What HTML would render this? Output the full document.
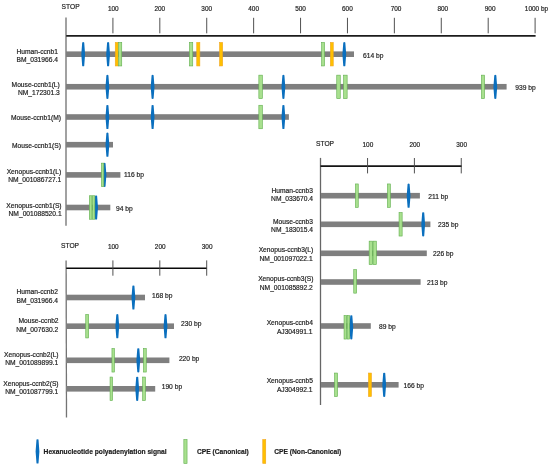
<!DOCTYPE html>
<html lang="en">
<head>
<meta charset="utf-8">
<title>Cyclin B 3'UTR maps</title>
<style>
html,body{margin:0;padding:0;background:#fff;}
svg{display:block;}
text{font-family:"Liberation Sans",Arial,Helvetica,sans-serif;fill:#1c1c1c;stroke:#1c1c1c;stroke-width:0.22px;stroke-opacity:0.8;}
</style>
</head>
<body>
<svg width="550" height="467" viewBox="0 0 550 467">
<rect x="0" y="0" width="550" height="467" fill="#ffffff"/>
<line x1="66.00" y1="17.60" x2="66.00" y2="225.70" stroke="#979797" stroke-width="1.8"/>
<line x1="66.20" y1="35.90" x2="535.60" y2="35.90" stroke="#1c1c1c" stroke-width="1.7"/>
<line x1="112.91" y1="17.80" x2="112.91" y2="33.30" stroke="#484848" stroke-width="0.95"/>
<line x1="159.82" y1="17.80" x2="159.82" y2="33.30" stroke="#484848" stroke-width="0.95"/>
<line x1="206.73" y1="17.80" x2="206.73" y2="33.30" stroke="#484848" stroke-width="0.95"/>
<line x1="253.64" y1="17.80" x2="253.64" y2="33.30" stroke="#484848" stroke-width="0.95"/>
<line x1="300.55" y1="17.80" x2="300.55" y2="33.30" stroke="#484848" stroke-width="0.95"/>
<line x1="347.46" y1="17.80" x2="347.46" y2="33.30" stroke="#484848" stroke-width="0.95"/>
<line x1="394.37" y1="17.80" x2="394.37" y2="33.30" stroke="#484848" stroke-width="0.95"/>
<line x1="441.28" y1="17.80" x2="441.28" y2="33.30" stroke="#484848" stroke-width="0.95"/>
<line x1="488.19" y1="17.80" x2="488.19" y2="33.30" stroke="#484848" stroke-width="0.95"/>
<line x1="535.10" y1="17.80" x2="535.10" y2="33.30" stroke="#484848" stroke-width="0.95"/>
<text x="61.6" y="9.2" text-anchor="start" font-size="6.68">STOP</text>
<text x="113.3" y="10.7" text-anchor="middle" font-size="6.45">100</text>
<text x="159.8" y="10.7" text-anchor="middle" font-size="6.45">200</text>
<text x="206.7" y="10.7" text-anchor="middle" font-size="6.45">300</text>
<text x="253.6" y="10.7" text-anchor="middle" font-size="6.45">400</text>
<text x="300.5" y="10.7" text-anchor="middle" font-size="6.45">500</text>
<text x="347.4" y="10.7" text-anchor="middle" font-size="6.45">600</text>
<text x="396.0" y="10.7" text-anchor="middle" font-size="6.45">700</text>
<text x="442.8" y="10.7" text-anchor="middle" font-size="6.45">800</text>
<text x="490.1" y="10.7" text-anchor="middle" font-size="6.45">900</text>
<text x="524.8" y="10.7" text-anchor="start" font-size="6.45">1000 bp</text>
<rect x="66.0" y="51.40" width="288.0" height="5.6" fill="#7f7f7f"/>
<path d="M82.20 42.50Q82.20 42.10 83.20 42.10Q84.20 42.10 84.20 42.50L85.10 54.20L84.20 65.90Q84.20 66.30 83.20 66.30Q82.20 66.30 82.20 65.90L81.30 54.20Z" fill="#0a6fbe"/>
<path d="M107.10 42.50Q107.10 42.10 108.10 42.10Q109.10 42.10 109.10 42.50L110.00 54.20L109.10 65.90Q109.10 66.30 108.10 66.30Q107.10 66.30 107.10 65.90L106.20 54.20Z" fill="#0a6fbe"/>
<rect x="115.25" y="42.45" width="2.90" height="23.50" fill="#ffc000" stroke="#f0a51e" stroke-width="0.6"/>
<rect x="118.65" y="42.45" width="3.10" height="23.50" fill="#a8e08e" stroke="#5fae4c" stroke-width="0.6"/>
<rect x="189.45" y="42.45" width="3.30" height="23.50" fill="#a8e08e" stroke="#5fae4c" stroke-width="0.6"/>
<rect x="196.75" y="42.45" width="3.10" height="23.50" fill="#ffc000" stroke="#f0a51e" stroke-width="0.6"/>
<rect x="219.55" y="42.45" width="3.10" height="23.50" fill="#ffc000" stroke="#f0a51e" stroke-width="0.6"/>
<rect x="321.65" y="42.45" width="2.90" height="23.50" fill="#a8e08e" stroke="#5fae4c" stroke-width="0.6"/>
<rect x="330.35" y="42.45" width="2.90" height="23.50" fill="#ffc000" stroke="#f0a51e" stroke-width="0.6"/>
<path d="M343.30 42.50Q343.30 42.10 344.30 42.10Q345.30 42.10 345.30 42.50L346.20 54.20L345.30 65.90Q345.30 66.30 344.30 66.30Q343.30 66.30 343.30 65.90L342.40 54.20Z" fill="#0a6fbe"/>
<text x="58.0" y="54.0" text-anchor="end" font-size="6.68">Human-ccnb1</text>
<text x="58.0" y="62.1" text-anchor="end" font-size="6.68">BM_031966.4</text>
<text x="363.0" y="57.6" text-anchor="start" font-size="6.68">614 bp</text>
<rect x="66.0" y="83.95" width="440.6" height="5.6" fill="#7f7f7f"/>
<path d="M106.40 75.20Q106.40 74.80 107.40 74.80Q108.40 74.80 108.40 75.20L109.30 86.90L108.40 98.60Q108.40 99.00 107.40 99.00Q106.40 99.00 106.40 98.60L105.50 86.90Z" fill="#0a6fbe"/>
<path d="M151.60 75.20Q151.60 74.80 152.60 74.80Q153.60 74.80 153.60 75.20L154.50 86.90L153.60 98.60Q153.60 99.00 152.60 99.00Q151.60 99.00 151.60 98.60L150.70 86.90Z" fill="#0a6fbe"/>
<rect x="258.85" y="75.15" width="3.50" height="23.50" fill="#a8e08e" stroke="#5fae4c" stroke-width="0.6"/>
<path d="M282.40 75.20Q282.40 74.80 283.40 74.80Q284.40 74.80 284.40 75.20L285.30 86.90L284.40 98.60Q284.40 99.00 283.40 99.00Q282.40 99.00 282.40 98.60L281.50 86.90Z" fill="#0a6fbe"/>
<rect x="336.75" y="75.15" width="3.50" height="23.50" fill="#a8e08e" stroke="#5fae4c" stroke-width="0.6"/>
<rect x="343.55" y="75.15" width="3.60" height="23.50" fill="#a8e08e" stroke="#5fae4c" stroke-width="0.6"/>
<rect x="481.45" y="75.15" width="3.10" height="23.50" fill="#a8e08e" stroke="#5fae4c" stroke-width="0.6"/>
<path d="M494.30 75.20Q494.30 74.80 495.30 74.80Q496.30 74.80 496.30 75.20L497.20 86.90L496.30 98.60Q496.30 99.00 495.30 99.00Q494.30 99.00 494.30 98.60L493.40 86.90Z" fill="#0a6fbe"/>
<text x="59.8" y="86.9" text-anchor="end" font-size="6.68">Mouse-ccnb1(L)</text>
<text x="59.8" y="94.9" text-anchor="end" font-size="6.68">NM_172301.3</text>
<text x="515.3" y="90.0" text-anchor="start" font-size="6.68">939 bp</text>
<rect x="66.0" y="114.20" width="222.9" height="5.6" fill="#7f7f7f"/>
<path d="M106.40 105.30Q106.40 104.90 107.40 104.90Q108.40 104.90 108.40 105.30L109.30 117.00L108.40 128.70Q108.40 129.10 107.40 129.10Q106.40 129.10 106.40 128.70L105.50 117.00Z" fill="#0a6fbe"/>
<path d="M151.60 105.30Q151.60 104.90 152.60 104.90Q153.60 104.90 153.60 105.30L154.50 117.00L153.60 128.70Q153.60 129.10 152.60 129.10Q151.60 129.10 151.60 128.70L150.70 117.00Z" fill="#0a6fbe"/>
<rect x="258.85" y="105.25" width="3.50" height="23.50" fill="#a8e08e" stroke="#5fae4c" stroke-width="0.6"/>
<path d="M282.40 105.30Q282.40 104.90 283.40 104.90Q284.40 104.90 284.40 105.30L285.30 117.00L284.40 128.70Q284.40 129.10 283.40 129.10Q282.40 129.10 282.40 128.70L281.50 117.00Z" fill="#0a6fbe"/>
<text x="61.0" y="119.6" text-anchor="end" font-size="6.68">Mouse-ccnb1(M)</text>
<rect x="66.0" y="141.90" width="47.0" height="5.6" fill="#7f7f7f"/>
<path d="M106.40 133.00Q106.40 132.60 107.40 132.60Q108.40 132.60 108.40 133.00L109.30 144.70L108.40 156.40Q108.40 156.80 107.40 156.80Q106.40 156.80 106.40 156.40L105.50 144.70Z" fill="#0a6fbe"/>
<text x="60.9" y="147.7" text-anchor="end" font-size="6.68">Mouse-ccnb1(S)</text>
<rect x="66.0" y="172.10" width="54.4" height="5.6" fill="#7f7f7f"/>
<path d="M103.50 163.20Q103.50 162.80 104.50 162.80Q105.50 162.80 105.50 163.20L106.40 174.90L105.50 186.60Q105.50 187.00 104.50 187.00Q103.50 187.00 103.50 186.60L102.60 174.90Z" fill="#0a6fbe"/>
<rect x="101.45" y="163.15" width="2.40" height="23.50" fill="#a8e08e" stroke="#5fae4c" stroke-width="0.6"/>
<text x="61.2" y="173.9" text-anchor="end" font-size="6.68">Xenopus-ccnb1(L)</text>
<text x="61.2" y="182.3" text-anchor="end" font-size="6.68">NM_001086727.1</text>
<text x="124.0" y="177.4" text-anchor="start" font-size="6.68">116 bp</text>
<rect x="66.0" y="204.70" width="44.3" height="5.6" fill="#7f7f7f"/>
<path d="M95.10 195.80Q95.10 195.40 96.10 195.40Q97.10 195.40 97.10 195.80L98.00 207.50L97.10 219.20Q97.10 219.60 96.10 219.60Q95.10 219.60 95.10 219.20L94.20 207.50Z" fill="#0a6fbe"/>
<rect x="89.35" y="195.75" width="2.60" height="23.50" fill="#a8e08e" stroke="#5fae4c" stroke-width="0.6"/>
<rect x="92.45" y="195.75" width="2.40" height="23.50" fill="#a8e08e" stroke="#5fae4c" stroke-width="0.6"/>
<text x="61.6" y="207.7" text-anchor="end" font-size="6.68">Xenopus-ccnb1(S)</text>
<text x="61.6" y="215.7" text-anchor="end" font-size="6.68">NM_001088520.1</text>
<text x="116.1" y="210.8" text-anchor="start" font-size="6.68">94 bp</text>
<line x1="66.10" y1="260.40" x2="66.50" y2="417.40" stroke="#747474" stroke-width="1.3"/>
<line x1="66.20" y1="268.20" x2="207.00" y2="268.20" stroke="#0a0a0a" stroke-width="1.5"/>
<line x1="112.90" y1="260.40" x2="112.90" y2="275.70" stroke="#484848" stroke-width="0.95"/>
<line x1="159.80" y1="260.40" x2="159.80" y2="275.70" stroke="#484848" stroke-width="0.95"/>
<line x1="206.70" y1="260.40" x2="206.70" y2="275.70" stroke="#484848" stroke-width="0.95"/>
<text x="61.0" y="248.1" text-anchor="start" font-size="6.68">STOP</text>
<text x="113.3" y="249.2" text-anchor="middle" font-size="6.45">100</text>
<text x="160.2" y="249.2" text-anchor="middle" font-size="6.45">200</text>
<text x="207.1" y="249.2" text-anchor="middle" font-size="6.45">300</text>
<rect x="66.0" y="294.70" width="79.0" height="5.6" fill="#7f7f7f"/>
<path d="M132.40 285.80Q132.40 285.40 133.40 285.40Q134.40 285.40 134.40 285.80L135.30 297.50L134.40 309.20Q134.40 309.60 133.40 309.60Q132.40 309.60 132.40 309.20L131.50 297.50Z" fill="#0a6fbe"/>
<text x="58.0" y="294.0" text-anchor="end" font-size="6.68">Human-ccnb2</text>
<text x="58.0" y="302.6" text-anchor="end" font-size="6.68">BM_031966.4</text>
<text x="152.0" y="297.8" text-anchor="start" font-size="6.68">168 bp</text>
<rect x="66.0" y="323.40" width="108.0" height="5.6" fill="#7f7f7f"/>
<rect x="85.75" y="314.45" width="2.90" height="23.50" fill="#a8e08e" stroke="#5fae4c" stroke-width="0.6"/>
<path d="M116.30 314.50Q116.30 314.10 117.30 314.10Q118.30 314.10 118.30 314.50L119.20 326.20L118.30 337.90Q118.30 338.30 117.30 338.30Q116.30 338.30 116.30 337.90L115.40 326.20Z" fill="#0a6fbe"/>
<path d="M164.50 314.50Q164.50 314.10 165.50 314.10Q166.50 314.10 166.50 314.50L167.40 326.20L166.50 337.90Q166.50 338.30 165.50 338.30Q164.50 338.30 164.50 337.90L163.60 326.20Z" fill="#0a6fbe"/>
<text x="58.6" y="322.9" text-anchor="end" font-size="6.68">Mouse-ccnb2</text>
<text x="58.2" y="331.9" text-anchor="end" font-size="6.68">NM_007630.2</text>
<text x="181.0" y="326.1" text-anchor="start" font-size="6.68">230 bp</text>
<rect x="66.0" y="357.50" width="103.4" height="5.6" fill="#7f7f7f"/>
<rect x="111.95" y="348.55" width="2.50" height="23.50" fill="#a8e08e" stroke="#5fae4c" stroke-width="0.6"/>
<path d="M137.30 348.60Q137.30 348.20 138.30 348.20Q139.30 348.20 139.30 348.60L140.20 360.30L139.30 372.00Q139.30 372.40 138.30 372.40Q137.30 372.40 137.30 372.00L136.40 360.30Z" fill="#0a6fbe"/>
<rect x="143.45" y="348.55" width="2.80" height="23.50" fill="#a8e08e" stroke="#5fae4c" stroke-width="0.6"/>
<text x="58.6" y="357.0" text-anchor="end" font-size="6.68">Xenopus-ccnb2(L)</text>
<text x="58.2" y="365.1" text-anchor="end" font-size="6.68">NM_001089899.1</text>
<text x="178.9" y="360.5" text-anchor="start" font-size="6.68">220 bp</text>
<rect x="66.0" y="386.00" width="89.2" height="5.6" fill="#7f7f7f"/>
<rect x="110.05" y="377.05" width="2.50" height="23.50" fill="#a8e08e" stroke="#5fae4c" stroke-width="0.6"/>
<path d="M136.20 377.10Q136.20 376.70 137.20 376.70Q138.20 376.70 138.20 377.10L139.10 388.80L138.20 400.50Q138.20 400.90 137.20 400.90Q136.20 400.90 136.20 400.50L135.30 388.80Z" fill="#0a6fbe"/>
<rect x="142.65" y="377.05" width="2.80" height="23.50" fill="#a8e08e" stroke="#5fae4c" stroke-width="0.6"/>
<text x="58.6" y="386.0" text-anchor="end" font-size="6.68">Xenopus-ccnb2(S)</text>
<text x="58.2" y="394.4" text-anchor="end" font-size="6.68">NM_001087799.1</text>
<text x="161.7" y="389.0" text-anchor="start" font-size="6.68">190 bp</text>
<line x1="320.50" y1="157.90" x2="320.50" y2="405.00" stroke="#666" stroke-width="1.3"/>
<line x1="320.50" y1="166.10" x2="461.70" y2="166.10" stroke="#151515" stroke-width="1.8"/>
<line x1="367.55" y1="158.00" x2="367.55" y2="173.40" stroke="#484848" stroke-width="0.95"/>
<line x1="414.40" y1="158.00" x2="414.40" y2="173.40" stroke="#484848" stroke-width="0.95"/>
<line x1="461.25" y1="158.00" x2="461.25" y2="173.40" stroke="#484848" stroke-width="0.95"/>
<text x="316.0" y="145.5" text-anchor="start" font-size="6.68">STOP</text>
<text x="367.9" y="147.1" text-anchor="middle" font-size="6.45">100</text>
<text x="414.8" y="147.1" text-anchor="middle" font-size="6.45">200</text>
<text x="461.6" y="147.1" text-anchor="middle" font-size="6.45">300</text>
<rect x="321.0" y="192.90" width="98.9" height="5.6" fill="#7f7f7f"/>
<rect x="355.45" y="183.95" width="2.80" height="23.50" fill="#a8e08e" stroke="#5fae4c" stroke-width="0.6"/>
<rect x="387.45" y="183.95" width="2.90" height="23.50" fill="#a8e08e" stroke="#5fae4c" stroke-width="0.6"/>
<path d="M407.60 184.00Q407.60 183.60 408.60 183.60Q409.60 183.60 409.60 184.00L410.50 195.70L409.60 207.40Q409.60 207.80 408.60 207.80Q407.60 207.80 407.60 207.40L406.70 195.70Z" fill="#0a6fbe"/>
<text x="313.0" y="192.8" text-anchor="end" font-size="6.68">Human-ccnb3</text>
<text x="313.0" y="200.7" text-anchor="end" font-size="6.68">NM_033670.4</text>
<text x="428.3" y="198.7" text-anchor="start" font-size="6.68">211 bp</text>
<rect x="321.0" y="221.50" width="109.4" height="5.6" fill="#7f7f7f"/>
<rect x="399.05" y="212.55" width="3.10" height="23.50" fill="#a8e08e" stroke="#5fae4c" stroke-width="0.6"/>
<path d="M422.20 212.60Q422.20 212.20 423.20 212.20Q424.20 212.20 424.20 212.60L425.10 224.30L424.20 236.00Q424.20 236.40 423.20 236.40Q422.20 236.40 422.20 236.00L421.30 224.30Z" fill="#0a6fbe"/>
<text x="313.0" y="223.6" text-anchor="end" font-size="6.68">Mouse-ccnb3</text>
<text x="313.0" y="232.1" text-anchor="end" font-size="6.68">NM_183015.4</text>
<text x="438.1" y="227.2" text-anchor="start" font-size="6.68">235 bp</text>
<rect x="321.0" y="250.50" width="105.8" height="5.6" fill="#7f7f7f"/>
<rect x="369.15" y="241.15" width="3.40" height="23.50" fill="#a8e08e" stroke="#5fae4c" stroke-width="0.6"/>
<rect x="373.05" y="241.15" width="3.30" height="23.50" fill="#a8e08e" stroke="#5fae4c" stroke-width="0.6"/>
<text x="313.2" y="252.2" text-anchor="end" font-size="6.68">Xenopus-ccnb3(L)</text>
<text x="312.6" y="260.7" text-anchor="end" font-size="6.68">NM_001097022.1</text>
<text x="433.0" y="256.0" text-anchor="start" font-size="6.68">226 bp</text>
<rect x="321.0" y="279.20" width="99.6" height="5.6" fill="#7f7f7f"/>
<rect x="353.75" y="269.65" width="2.90" height="23.50" fill="#a8e08e" stroke="#5fae4c" stroke-width="0.6"/>
<text x="313.4" y="281.2" text-anchor="end" font-size="6.68">Xenopus-ccnb3(S)</text>
<text x="312.8" y="290.0" text-anchor="end" font-size="6.68">NM_001085892.2</text>
<text x="427.0" y="285.1" text-anchor="start" font-size="6.68">213 bp</text>
<rect x="321.0" y="323.20" width="49.8" height="5.6" fill="#7f7f7f"/>
<path d="M350.30 315.60Q350.30 315.20 351.30 315.20Q352.30 315.20 352.30 315.60L353.20 327.30L352.30 339.00Q352.30 339.40 351.30 339.40Q350.30 339.40 350.30 339.00L349.40 327.30Z" fill="#0a6fbe"/>
<rect x="344.05" y="315.55" width="2.60" height="23.50" fill="#a8e08e" stroke="#5fae4c" stroke-width="0.6"/>
<rect x="347.15" y="315.55" width="2.50" height="23.50" fill="#a8e08e" stroke="#5fae4c" stroke-width="0.6"/>
<text x="313.0" y="325.1" text-anchor="end" font-size="6.68">Xenopus-ccnb4</text>
<text x="312.5" y="334.0" text-anchor="end" font-size="6.68">AJ304991.1</text>
<text x="379.0" y="328.6" text-anchor="start" font-size="6.68">89 bp</text>
<rect x="321.0" y="382.00" width="77.6" height="5.6" fill="#7f7f7f"/>
<rect x="334.55" y="373.05" width="3.00" height="23.50" fill="#a8e08e" stroke="#5fae4c" stroke-width="0.6"/>
<rect x="368.45" y="373.05" width="3.00" height="23.50" fill="#ffc000" stroke="#f0a51e" stroke-width="0.6"/>
<path d="M383.20 373.10Q383.20 372.70 384.20 372.70Q385.20 372.70 385.20 373.10L386.10 384.80L385.20 396.50Q385.20 396.90 384.20 396.90Q383.20 396.90 383.20 396.50L382.30 384.80Z" fill="#0a6fbe"/>
<text x="313.0" y="383.3" text-anchor="end" font-size="6.68">Xenopus-ccnb5</text>
<text x="312.5" y="391.8" text-anchor="end" font-size="6.68">AJ304992.1</text>
<text x="403.5" y="388.2" text-anchor="start" font-size="6.68">166 bp</text>
<path d="M36.50 439.60Q36.50 439.20 37.50 439.20Q38.50 439.20 38.50 439.60L39.40 451.40L38.50 463.20Q38.50 463.60 37.50 463.60Q36.50 463.60 36.50 463.20L35.60 451.40Z" fill="#0a6fbe"/>
<text x="43.6" y="453.8" text-anchor="start" font-weight="bold" font-size="6.68">Hexanucleotide polyadenylation signal</text>
<rect x="183.85" y="439.55" width="3.20" height="23.90" fill="#a8e08e" stroke="#5fae4c" stroke-width="0.6"/>
<text x="196.9" y="453.8" text-anchor="start" font-weight="bold" font-size="6.68">CPE (Canonical)</text>
<rect x="262.75" y="439.55" width="3.00" height="23.90" fill="#ffc000" stroke="#f0a51e" stroke-width="0.6"/>
<text x="274.2" y="453.8" text-anchor="start" font-weight="bold" font-size="6.68">CPE (Non-Canonical)</text>
</svg>
</body>
</html>
